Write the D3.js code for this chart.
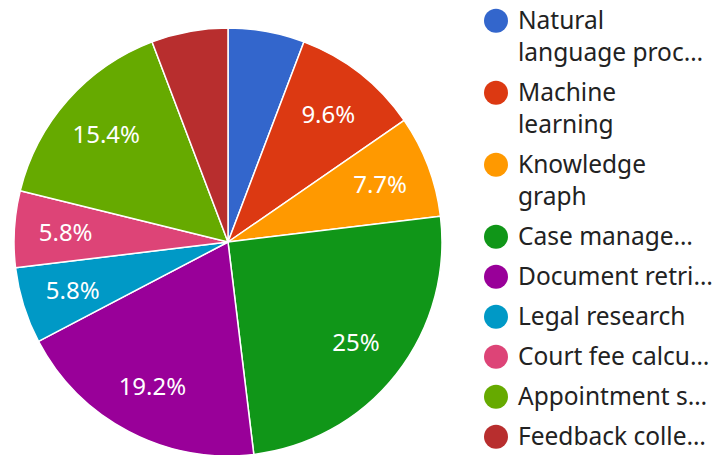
<!DOCTYPE html>
<html>
<head>
<meta charset="utf-8">
<script src="https://cdn.jsdelivr.net/npm/d3@7"></script>
<style>
  html, body { margin: 0; padding: 0; background: #fff; }
  svg { display: block; }
  text { font-family: "Noto Sans", "Open Sans", sans-serif; }
</style>
</head>
<body>
<svg id="chart" width="713" height="455"></svg>
<script>
// ---- data ----
const categories = [
  "Natural language proc…",
  "Machine learning",
  "Knowledge graph",
  "Case manage…",
  "Document retri…",
  "Legal research",
  "Court fee calcu…",
  "Appointment s…",
  "Feedback colle…"
];
const legendLines = [
  ["Natural", "language proc…"],
  ["Machine", "learning"],
  ["Knowledge", "graph"],
  ["Case manage…"],
  ["Document retri…"],
  ["Legal research"],
  ["Court fee calcu…"],
  ["Appointment s…"],
  ["Feedback colle…"]
];
const counts = [3, 5, 4, 13, 10, 3, 3, 8, 3];
const colors = ["#3366cc", "#dc3912", "#ff9900", "#109618", "#990099",
                "#0099c6", "#dd4477", "#66aa00", "#b82e2e"];

// ---- layout ----
const svg = d3.select("#chart");
const cx = 228, cy = 242, R = 214;
const total = d3.sum(counts);

const pie = d3.pie().sort(null).value(d => d)(counts);
const arc = d3.arc().innerRadius(0).outerRadius(R);

const g = svg.append("g").attr("transform", `translate(${cx},${cy})`);

g.selectAll("path.slice")
  .data(pie)
  .join("path")
  .attr("class", "slice")
  .attr("d", arc)
  .attr("fill", (d, i) => colors[i])
  .attr("stroke", "#ffffff")
  .attr("stroke-width", 1.5)
  .attr("stroke-linejoin", "round");

const fmt = v => {
  const p = v / total * 100;
  const s = (Math.round(p * 10) / 10).toString();
  return s + "%";
};

const labelR = R * 0.76;
const labels = g.selectAll("text.lbl")
  .data(pie)
  .join("text")
  .attr("class", "lbl")
  .attr("text-anchor", "middle")
  .attr("dy", "0.36em")
  .attr("fill", "#ffffff")
  .attr("font-size", 24)
  .attr("transform", d => {
    const a = (d.startAngle + d.endAngle) / 2;
    return `translate(${labelR * Math.sin(a)},${-labelR * Math.cos(a)})`;
  })
  .text(d => fmt(d.value));

// hide labels that don't fit inside their slice (with padding)
labels.each(function(d) {
  const a = (d.startAngle + d.endAngle) / 2;
  const x = labelR * Math.sin(a), y = -labelR * Math.cos(a);
  const w = this.getComputedTextLength(), h = 17, pad = 6;
  const corners = [[x - w/2, y - h/2], [x + w/2, y - h/2], [x - w/2, y + h/2], [x + w/2, y + h/2]];
  let ok = true;
  for (const [px, py] of corners) {
    let ang = Math.atan2(px, -py);
    if (ang < 0) ang += 2 * Math.PI;
    const r = Math.hypot(px, py);
    if ((ang - d.startAngle) * r < pad || (d.endAngle - ang) * r < pad || r > R - 2) ok = false;
  }
  if (!ok) d3.select(this).remove();
});

// ---- legend ----
const lx = 496, ltx = 518;
const legend = svg.append("g");
let yc = 20.7;
legendLines.forEach((lines, i) => {
  legend.append("circle")
    .attr("cx", lx).attr("cy", yc).attr("r", 12)
    .attr("fill", colors[i]);
  const t = legend.append("text")
    .attr("x", ltx).attr("y", yc + 8.5)
    .attr("font-size", 24.5)
    .attr("fill", "#222222");
  lines.forEach((ln, j) => {
    t.append("tspan").attr("x", ltx).attr("dy", j === 0 ? 0 : 32).text(ln);
  });
  yc += 40 + (lines.length - 1) * 32;
});
</script>
</body>
</html>
